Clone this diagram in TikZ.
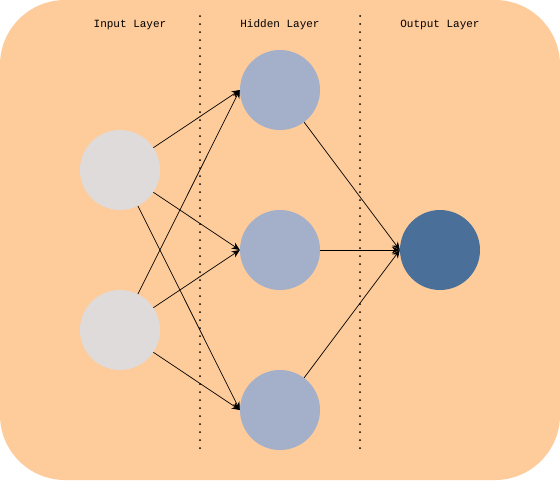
\documentclass[tikz,border=0pt]{standalone}
\usepackage{fontspec}
\setmonofont{Liberation Mono}
\usetikzlibrary{arrows.meta}
\definecolor{bgc}{HTML}{FECB9A}
\definecolor{inc}{HTML}{DFDBDB}
\definecolor{hidc}{HTML}{A4B0CA}
\definecolor{outc}{HTML}{4A7099}
\tikzset{
  neuron/.style={circle,minimum size=80pt,inner sep=0pt,draw=none},
  innode/.style={neuron,fill=inc},
  hidnode/.style={neuron,fill=hidc},
  outnode/.style={neuron,fill=outc},
  conn/.style={-{Stealth[length=8pt,width=7pt]},line width=0.7pt,black},
  sep/.style={line width=2pt,dash pattern=on 0pt off 8pt,line cap=round},
  lbl/.style={font=\ttfamily\fontsize{11}{13}\selectfont}
}
\begin{document}
\begin{tikzpicture}[x=1pt,y=-1pt]
\useasboundingbox (0,0) rectangle (560,480);
\fill[bgc,rounded corners=65pt] (0,0) rectangle (560,480);
\coordinate (s1a) at (200,16);
\coordinate (s1b) at (200,450);
\coordinate (s2a) at (360,16);
\coordinate (s2b) at (360,450);
\draw[sep] (s1a) -- (s1b);
\draw[sep] (s2a) -- (s2b);
\node[lbl] (l1) at (130,25) {Input Layer};
\node[lbl] (l2) at (280,25) {Hidden Layer};
\node[lbl] (l3) at (440,25) {Output Layer};
\node[innode] (i1) at (120,170) {};
\node[innode] (i2) at (120,330) {};
\node[hidnode] (h1) at (280,90) {};
\node[hidnode] (h2) at (280,250) {};
\node[hidnode] (h3) at (280,410) {};
\node[outnode] (o) at (440,250) {};
\foreach \i in {i1,i2}{
  \foreach \h in {h1,h2,h3}{
    \draw[conn] (\i) -- (\h.west);
  }
}
\foreach \h in {h1,h2,h3}{
  \draw[conn] (\h) -- (o.west);
}
\end{tikzpicture}
\end{document}
